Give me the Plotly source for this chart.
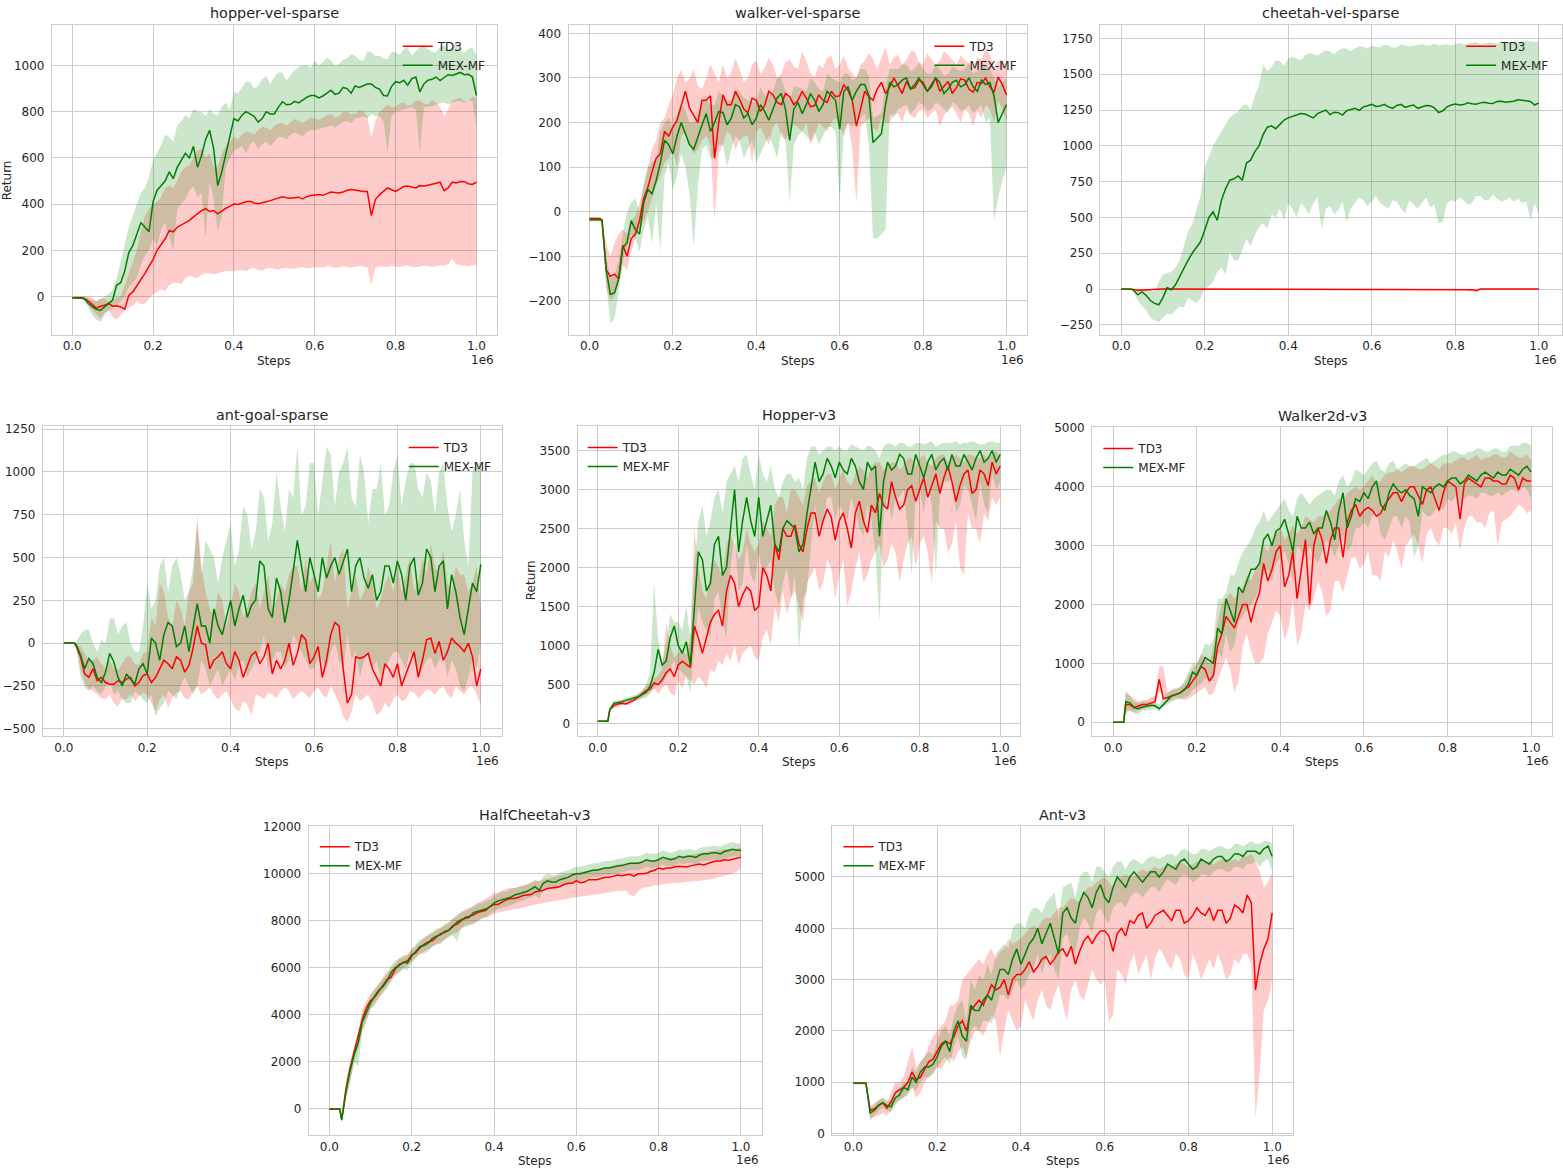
import plotly.graph_objects as go

# ---------------- data ----------------
# training steps, in units of 1e6
STEPS = [0, 0.025, 0.03, 0.04, 0.06, 0.08, 0.10, 0.12, 0.14, 0.16, 0.18,
         0.20, 0.22, 0.24, 0.26, 0.28, 0.30, 0.32, 0.34, 0.36, 0.38,
         0.40, 0.42, 0.44, 0.46, 0.48, 0.50, 0.52, 0.54, 0.56, 0.58,
         0.60, 0.62, 0.64, 0.66, 0.68, 0.70, 0.72, 0.74, 0.76, 0.78,
         0.80, 0.82, 0.84, 0.86, 0.88, 0.90, 0.92, 0.94, 0.96, 0.98,
         1.00]
# the evaluation steps in between (values for them are in the *_MID lists)
STEPS_MID = [0.05, 0.07, 0.09, 0.11, 0.13, 0.15, 0.17, 0.19,
             0.21, 0.23, 0.25, 0.27, 0.29, 0.31, 0.33, 0.35, 0.37, 0.39,
             0.41, 0.43, 0.45, 0.47, 0.49, 0.51, 0.53, 0.55, 0.57, 0.59,
             0.61, 0.63, 0.65, 0.67, 0.69, 0.71, 0.73, 0.75, 0.77, 0.79,
             0.81, 0.83, 0.85, 0.87, 0.89, 0.91, 0.93, 0.95, 0.97, 0.99]
X_TICKS = [0, 0.2, 0.4, 0.6, 0.8, 1.0]
X_TICK_LABELS = ["0.0", "0.2", "0.4", "0.6", "0.8", "1.0"]
SERIES_NAMES = ["TD3", "MEX-MF"]
TITLES = ["hopper-vel-sparse", "walker-vel-sparse", "cheetah-vel-sparse",
          "ant-goal-sparse", "Hopper-v3", "Walker2d-v3", "HalfCheetah-v3", "Ant-v3"]

# ===== hopper-vel-sparse =====
HVS_YTICKS = [0, 200, 400, 600, 800, 1000]
HVS_TD3_MEAN = [-5, -5, -8, -20, -50, -38, -42, -45, 5, 45, 100,
                160, 225, 285, 300, 320, 345, 372, 368, 358, 382,
                400, 405, 412, 402, 410, 420, 432, 425, 430, 432,
                440, 438, 452, 448, 460, 462, 455, 350, 440, 470,
                455, 476, 474, 480, 482, 490, 458, 495, 498, 488,
                495]
HVS_TD3_MEAN_MID = [-35, -42, -30, -40, -55, 20, 70, 130,
                    200, 250, 280, 310, 330, 360, 380, 372, 370, 390,
                    398, 410, 405, 405, 415, 428, 428, 428, 422, 437,
                    442, 446, 450, 452, 463, 458, 455, 420, 455, 462,
                    465, 478, 470, 478, 485, 495, 470, 492, 497, 485]
HVS_TD3_LOW = [-10, -10, -15, -40, -80, -70, -90, -80, -50, -20, -30,
               10, 30, 50, 60, 80, 85, 95, 100, 100, 110,
               110, 115, 120, 115, 120, 118, 122, 120, 125, 122,
               128, 125, 130, 126, 128, 130, 128, 50, 130, 128,
               130, 132, 128, 130, 132, 130, 133, 165, 135, 130,
               135]
HVS_TD3_LOW_MID = [-60, -95, -60, -100, -60, -40, -35, -10,
                   20, 25, 60, 55, 90, 80, 100, 95, 105, 108,
                   112, 110, 122, 113, 125, 116, 124, 119, 128, 124,
                   127, 131, 124, 130, 125, 132, 126, 125, 128, 133,
                   128, 134, 127, 133, 129, 135, 140, 140, 132, 136]
HVS_TD3_HIGH = [0, 0, 0, 0, -20, -10, -20, 0, 100, 200, 350,
                400, 430, 480, 500, 560, 600, 640, 620, 560, 650,
                690, 700, 710, 720, 730, 740, 750, 755, 760, 762,
                770, 775, 790, 780, 800, 790, 800, 690, 800, 830,
                820, 840, 830, 850, 830, 840, 780, 850, 860, 850,
                860]
HVS_TD3_HIGH_MID = [-5, -10, -20, -5, 50, 150, 280, 380,
                    410, 470, 470, 540, 570, 630, 600, 560, 620, 670,
                    680, 715, 700, 735, 720, 750, 740, 768, 752, 775,
                    765, 785, 775, 800, 790, 805, 780, 760, 815, 820,
                    835, 825, 845, 835, 850, 820, 810, 855, 845, 865]
HVS_MEX_MEAN = [-5, -5, -10, -30, -55, -45, -15, 60, 190, 270, 300,
                410, 480, 540, 560, 620, 650, 610, 720, 480, 620,
                770, 785, 790, 755, 800, 790, 843, 832, 838, 862,
                870, 868, 893, 880, 900, 912, 914, 920, 898, 868,
                930, 936, 943, 886, 936, 950, 948, 957, 970, 962,
                870]
HVS_MEX_MEAN_MID = [-45, -60, -30, 50, 110, 220, 320, 280,
                    460, 500, 510, 590, 600, 560, 680, 640, 540, 700,
                    760, 800, 780, 770, 790, 820, 830, 845, 850, 870,
                    860, 880, 875, 905, 880, 905, 920, 905, 870, 910,
                    925, 915, 950, 920, 940, 935, 960, 965, 960, 950]
HVS_MEX_LOW = [-10, -10, -15, -50, -100, -80, -50, -20, 40, 80, 180,
               250, 290, 260, 380, 420, 480, 450, 500, 280, 560,
               630, 650, 660, 640, 670, 672, 690, 700, 702, 712,
               720, 730, 740, 745, 760, 770, 780, 790, 780, 620,
               800, 810, 820, 620, 820, 830, 840, 840, 845, 850,
               740]
HVS_MEX_LOW_MID = [-80, -110, -60, -40, 0, 60, 140, 200,
                   220, 320, 200, 400, 460, 430, 250, 420, 350, 600,
                   640, 620, 670, 660, 650, 690, 680, 710, 690, 720,
                   725, 735, 730, 755, 750, 775, 770, 780, 760, 780,
                   805, 815, 810, 820, 825, 835, 830, 845, 840, 845]
HVS_MEX_HIGH = [0, 0, 0, -10, -20, 0, 30, 150, 300, 400, 470,
                590, 655, 690, 740, 785, 815, 800, 812, 785, 840,
                885, 905, 928, 912, 955, 950, 970, 957, 992, 1000,
                1020, 1014, 1022, 1006, 1030, 1042, 1020, 1058, 1043, 1028,
                1057, 1070, 1043, 1080, 1070, 1057, 1086, 1078, 1064, 1072,
                1040]
HVS_MEX_HIGH_MID = [-15, -10, 10, 80, 230, 350, 450, 520,
                    620, 700, 670, 760, 770, 800, 780, 790, 820, 810,
                    880, 930, 900, 940, 920, 970, 935, 980, 1000, 990,
                    1000, 1035, 1000, 1025, 1050, 1025, 1060, 1040, 1030, 1060,
                    1045, 1080, 1060, 1090, 1060, 1080, 1070, 1100, 1055, 1080]

# ===== walker-vel-sparse =====
WVS_YTICKS = [-200, -100, 0, 100, 200, 300, 400]
WVS_TD3_MEAN = [-15, -15, -20, -130, -140, -75, -60, -20, 55, 120, 180,
                190, 240, 232, 200, 250, 120, 262, 240, 252, 222,
                250, 238, 262, 240, 258, 250, 255, 238, 250, 270,
                260, 272, 192, 270, 250, 290, 280, 283, 292, 278,
                290, 285, 270, 292, 278, 295, 268, 287, 280, 302,
                262]
WVS_TD3_MEAN_MID = [-145, -150, -100, -50, 30, 90, 130, 170,
                    205, 270, 215, 250, 260, 200, 240, 270, 230, 255,
                    225, 270, 245, 265, 240, 270, 235, 262, 245, 258,
                    285, 250, 230, 258, 275, 265, 300, 265, 275, 295,
                    270, 300, 282, 265, 298, 275, 290, 300, 268, 285]
WVS_TD3_LOW = [-20, -20, -25, -170, -190, -120, -90, -40, 0, 60, 110,
               140, 170, 150, 140, 170, -20, 150, 170, 160, 170,
               180, 170, 190, 170, 180, 190, 200, 170, 190, 200,
               190, 200, 20, 200, 190, 210, 200, 220, 230, 210,
               230, 220, 190, 230, 220, 230, 190, 210, 230, 250,
               200]
WVS_TD3_LOW_MID = [-200, -160, -130, -60, -20, 30, 80, 120,
                   100, 180, 130, 160, 150, 130, 180, 140, 170, 110,
                   190, 150, 200, 160, 195, 180, 150, 200, 180, 210,
                   170, 140, 190, 210, 180, 200, 220, 200, 215, 225,
                   210, 230, 215, 235, 200, 220, 225, 240, 200, 230]
WVS_TD3_HIGH = [-12, -12, -15, -70, -70, -40, -20, 20, 100, 160, 210,
                262, 318, 298, 282, 300, 310, 330, 312, 320, 300,
                338, 322, 330, 310, 342, 320, 338, 302, 322, 350,
                330, 322, 300, 338, 342, 345, 330, 352, 340, 360,
                330, 342, 338, 352, 330, 340, 322, 342, 352, 338,
                320]
WVS_TD3_HIGH_MID = [-100, -50, -50, -10, 60, 140, 200, 240,
                    300, 290, 320, 275, 330, 290, 300, 345, 290, 330,
                    310, 345, 300, 335, 325, 360, 310, 330, 345, 320,
                    350, 310, 330, 355, 320, 370, 345, 330, 360, 335,
                    355, 330, 360, 340, 350, 330, 345, 365, 325, 340]
WVS_MEX_MEAN = [-18, -18, -18, -130, -182, -80, -20, -50, 50, 70, 160,
                130, 200, 150, 170, 220, 200, 222, 210, 235, 220,
                210, 225, 230, 265, 160, 245, 240, 250, 240, 260,
                185, 280, 270, 285, 155, 175, 290, 285, 300, 285,
                285, 280, 290, 275, 295, 285, 280, 295, 290, 200,
                240]
WVS_MEX_MEAN_MID = [-185, -150, -70, -40, 20, 40, 110, 150,
                    170, 175, 140, 195, 180, 225, 195, 240, 210, 195,
                    240, 205, 255, 230, 230, 220, 265, 225, 270, 250,
                    270, 250, 285, 260, 165, 240, 280, 295, 275, 300,
                    270, 300, 265, 290, 280, 300, 270, 285, 260, 220]
WVS_MEX_LOW = [-22, -22, -22, -160, -240, -110, -50, -90, -10, 20, 80,
               50, 130, 40, 60, 150, 120, 150, 140, 160, 140,
               110, 150, 150, 180, 20, 170, 170, 180, 170, 190,
               20, 200, 200, 220, -60, -50, 220, 230, 240, 230,
               240, 230, 240, 220, 240, 230, 220, 240, 210, 30,
               100]
WVS_MEX_LOW_MID = [-250, -180, -80, -60, -40, -70, -90, 110,
                   80, 100, -80, 140, 120, 150, 100, 170, 120, 160,
                   130, 170, 120, 160, 150, 180, 160, 150, 190, 180,
                   180, 190, 210, 150, -60, -40, 210, 235, 220, 245,
                   225, 245, 230, 245, 225, 240, 230, 200, -20, 70]
WVS_MEX_HIGH = [-14, -14, -14, -100, -145, -50, 20, 0, 100, 120, 200,
                190, 240, 200, 220, 250, 240, 260, 250, 270, 250,
                250, 260, 270, 300, 250, 280, 270, 290, 270, 300,
                290, 310, 300, 320, 210, 220, 320, 320, 330, 320,
                320, 310, 320, 310, 320, 320, 310, 320, 320, 280,
                300]
WVS_MEX_HIGH_MID = [-150, -110, 0, 30, 60, 110, 180, 210,
                    220, 230, 200, 250, 240, 270, 250, 275, 255, 245,
                    280, 260, 300, 270, 280, 275, 300, 275, 310, 295,
                    310, 295, 320, 305, 215, 280, 320, 330, 315, 335,
                    310, 330, 305, 325, 315, 335, 315, 330, 300, 290]

# ===== cheetah-vel-sparse =====
CVS_YTICKS = [-250, 0, 250, 500, 750, 1000, 1250, 1500, 1750]
CVS_TD3_MEAN = [0, 0, -3, -8, -4, 0, 0, 0, 0, 0, 0,
                0, 0, 0, 0, 0, 0, 0, 0, 0, 0,
                0, 0, 0, 0, 0, 0, 0, 0, 0, 0,
                0, 0, 0, 0, 0, 0, 0, 0, 0, 0,
                0, 0, -4, 0, 0, 0, 0, 0, 0, 0,
                0]
CVS_TD3_MEAN_MID = [-6, -2, 0, 0, 0, 0, 0, 0,
                    0, 0, 0, 0, 0, 0, 0, 0, 0, 0,
                    0, 0, 0, 0, 0, 0, 0, 0, 0, 0,
                    0, 0, 0, 0, 0, 0, 0, 0, 0, 0,
                    0, 0, -12, 0, 0, 0, 0, 0, 0, 0]
CVS_TD3_LOW = [-2, -2, -8, -18, -12, -5, -3, -3, -3, -3, -3,
               -3, -3, -3, -3, -3, -3, -3, -3, -3, -3,
               -3, -3, -3, -3, -3, -3, -3, -3, -3, -3,
               -3, -3, -3, -3, -3, -3, -3, -3, -3, -3,
               -3, -3, -20, -3, -3, -3, -3, -3, -3, -3,
               -3]
CVS_TD3_HIGH = [2, 2, 0, 0, 2, 3, 3, 3, 3, 3, 3,
                3, 3, 3, 3, 3, 3, 3, 3, 3, 3,
                3, 3, 3, 3, 3, 3, 3, 3, 3, 3,
                3, 3, 3, 3, 3, 3, 3, 3, 3, 3,
                3, 3, 0, 3, 3, 3, 3, 3, 3, 3,
                3]
CVS_MEX_MEAN = [0, 0, -10, -40, -45, -100, -60, -5, 90, 200, 290,
                410, 540, 620, 760, 790, 880, 960, 1080, 1140, 1150,
                1195, 1210, 1222, 1195, 1240, 1218, 1232, 1245, 1262, 1272,
                1290, 1278, 1272, 1282, 1268, 1285, 1272, 1280, 1232, 1272,
                1292, 1288, 1294, 1300, 1298, 1310, 1305, 1312, 1318, 1310,
                1300]
CVS_MEX_MEAN_MID = [-20, -80, -110, 10, 30, 150, 250, 330,
                    500, 480, 700, 770, 760, 900, 1000, 1130, 1120, 1180,
                    1205, 1225, 1210, 1225, 1250, 1235, 1215, 1255, 1248, 1280,
                    1275, 1290, 1262, 1290, 1278, 1262, 1282, 1265, 1245, 1285,
                    1285, 1300, 1290, 1305, 1295, 1312, 1308, 1322, 1315, 1285]
CVS_MEX_LOW = [0, 0, -20, -80, -150, -220, -200, -180, -120, -60, -100,
               0, 50, 150, 260, 200, 350, 380, 460, 520, 560,
               600, 500, 570, 600, 420, 580, 550, 470, 600, 620,
               610, 600, 560, 610, 530, 590, 600, 570, 460, 600,
               610, 620, 600, 650, 620, 630, 620, 610, 600, 480,
               520]
CVS_MEX_LOW_MID = [-120, -200, -230, -170, -150, -130, -80, -60,
                   20, 120, 100, 200, 280, 300, 430, 420, 500, 480,
                   560, 600, 520, 640, 560, 520, 610, 560, 640, 580,
                   650, 580, 620, 560, 620, 560, 640, 590, 470, 620,
                   640, 590, 650, 620, 660, 610, 640, 630, 610, 600]
CVS_MEX_HIGH = [0, 0, 0, -10, 0, -20, 100, 120, 200, 400, 550,
                850, 1000, 1100, 1200, 1240, 1290, 1350, 1570, 1550, 1590,
                1610, 1612, 1630, 1642, 1650, 1660, 1668, 1680, 1682, 1690,
                1700, 1690, 1702, 1690, 1700, 1698, 1710, 1702, 1700, 1710,
                1712, 1708, 1720, 1710, 1722, 1712, 1720, 1730, 1722, 1730,
                1730]
CVS_MEX_HIGH_MID = [-5, -10, 50, 110, 150, 300, 450, 650,
                    920, 1050, 1150, 1220, 1280, 1250, 1420, 1520, 1600, 1560,
                    1620, 1600, 1650, 1630, 1665, 1640, 1680, 1660, 1695, 1680,
                    1690, 1705, 1685, 1710, 1695, 1705, 1700, 1715, 1705, 1700,
                    1720, 1715, 1725, 1715, 1720, 1730, 1718, 1728, 1735, 1725]

# ===== ant-goal-sparse =====
AGS_YTICKS = [-500, -250, 0, 250, 500, 750, 1000, 1250]
AGS_TD3_MEAN = [0, 0, -20, -80, -200, -220, -230, -240, -230, -200, -230,
                -180, -200, -100, -150, -100, -130, 100, -10, -100, -50,
                -150, -100, -130, -50, -80, -180, -150, 0, -60, 20,
                -80, -200, 50, 100, -350, -80, -80, -150, -250, -150,
                -120, -180, -50, -100, 30, 10, -50, 0, -50, -80,
                -150]
AGS_TD3_MEAN_MID = [-180, -150, -200, -240, -220, -210, -250, -190,
                    -230, -150, -120, -80, -170, -30, 0, -150, -80, -120,
                    -50, -200, -70, -120, 0, -100, -100, -130, 50, -120,
                    -20, -100, 120, -150, -300, -90, -60, -200, -120, -200,
                    -250, -120, -200, 20, -60, -100, 30, -20, 0, -250]
AGS_TD3_LOW = [0, 0, -30, -150, -270, -300, -330, -350, -320, -300, -310,
               -300, -400, -300, -320, -280, -330, -250, -280, -300, -300,
               -330, -400, -360, -300, -330, -300, -280, -280, -300, -300,
               -280, -300, -250, -350, -460, -300, -320, -350, -400, -380,
               -300, -330, -290, -300, -280, -270, -300, -250, -300, -250,
               -360]
AGS_TD3_LOW_MID = [-230, -280, -320, -300, -370, -330, -340, -290,
                   -350, -330, -380, -290, -320, -280, -300, -260, -330, -280,
                   -380, -340, -420, -310, -290, -320, -260, -330, -280, -320,
                   -260, -320, -300, -430, -400, -340, -300, -420, -350, -330,
                   -340, -280, -320, -270, -300, -250, -320, -280, -260, -300]
AGS_TD3_HIGH = [0, 0, -10, -20, -100, -80, -150, -150, -120, -80, -130,
                -50, 100, 300, 100, 200, 300, 750, 300, 150, 250,
                200, 300, 200, 350, 300, 200, 350, 400, 450, 500,
                400, 300, 600, 500, 200, 400, 300, 350, 250, 400,
                450, 400, 300, 500, 580, 400, 350, 450, 400, 350,
                200]
AGS_TD3_HIGH_MID = [-60, -100, -120, -100, -160, -80, -120, -60,
                    150, 350, 150, 250, 100, 350, 450, 200, 300, 100,
                    350, 150, 300, 200, 400, 250, 300, 450, 300, 350,
                    250, 450, 350, 550, 300, 250, 450, 200, 350, 300,
                    300, 500, 350, 400, 450, 550, 300, 400, 300, 450]
AGS_MEX_MEAN = [0, 0, -10, -70, -90, -200, -170, -110, -250, -210, -150,
                -180, 0, 50, 100, 0, -50, 230, 100, 200, 50,
                250, 200, 150, 250, 450, 150, 300, 250, 600, 300,
                400, 500, 450, 400, 550, 450, 380, 400, 300, 450,
                480, 250, 500, 350, 500, 450, 200, 300, 50, 350,
                460]
AGS_MEX_MEAN_MID = [-150, -120, -230, -60, -200, -180, -240, -120,
                    30, -100, 120, -20, 100, 80, 100, 0, 100, 150,
                    100, 280, 220, 480, 200, 380, 120, 420, 450, 500,
                    300, 380, 500, 480, 300, 500, 320, 250, 450, 350,
                    400, 450, 280, 550, 300, 480, 400, 150, 200, 300]
AGS_MEX_LOW = [0, 0, -30, -200, -280, -280, -250, -300, -330, -350, -300,
               -350, -430, -350, -300, -250, -250, -250, -150, -200, -250,
               -150, -120, -200, -100, 50, -100, -50, -100, 0, -100,
               -150, -100, -50, -100, 50, -50, -100, -150, -200, -100,
               -50, -150, -100, -150, -80, -100, -200, -150, -280, -100,
               0]
AGS_MEX_LOW_MID = [-260, -250, -300, -220, -280, -350, -280, -330,
                   -300, -380, -280, -330, -200, -300, -100, -250, -150, -200,
                   -220, -100, -150, -50, -150, -50, -150, 50, -50, -150,
                   -80, -150, 0, -150, -100, -200, -50, -100, -150, -50,
                   -100, -50, -200, -100, -150, -50, -100, -250, -200, -150]
AGS_MEX_HIGH = [0, 0, 10, 50, 80, -50, 0, 150, 100, 0, -50,
                350, 250, 500, 450, 400, 300, 700, 600, 500, 500,
                700, 550, 750, 650, 850, 700, 800, 900, 1150, 800,
                1050, 950, 1100, 1000, 1150, 800, 1000, 900, 1050, 800,
                1100, 950, 1050, 850, 950, 1000, 800, 750, 600, 1000,
                1050]
AGS_MEX_HIGH_MID = [80, 0, 20, 140, 50, 120, -50, 100,
                    200, 450, 300, 500, 250, 450, 400, 550, 350, 600,
                    450, 800, 550, 900, 600, 1000, 650, 850, 750, 1050,
                    750, 1150, 800, 1050, 850, 1100, 700, 900, 750, 1000,
                    800, 1050, 900, 1000, 750, 1050, 650, 900, 450, 1050]

# ===== Hopper-v3 =====
HOP_YTICKS = [0, 500, 1000, 1500, 2000, 2500, 3000, 3500]
HOP_TD3_MEAN = [30, 30, 180, 230, 260, 270, 340, 420, 520, 560, 700,
                750, 760, 1250, 900, 1300, 1450, 1700, 1800, 1650, 1700,
                1500, 1900, 2300, 2500, 2400, 2300, 2500, 2700, 2600, 2650,
                2600, 2500, 2700, 2600, 2800, 2950, 2750, 2900, 2800, 3050,
                3000, 2900, 3200, 3150, 3100, 3050, 3250, 3000, 3200, 3350,
                3300]
HOP_TD3_MEAN_MID = [250, 250, 300, 380, 440, 500, 650, 600,
                    800, 720, 1100, 1100, 1400, 1250, 1900, 1500, 1750, 1450,
                    2000, 1700, 2100, 2400, 2550, 2200, 2700, 2400, 2750, 2350,
                    2700, 2250, 2850, 2450, 2700, 2800, 3100, 2750, 3000, 2850,
                    3150, 3050, 2950, 3300, 2850, 3200, 2950, 3250, 3050, 3200]
HOP_TD3_LOW = [25, 25, 170, 200, 230, 240, 300, 360, 450, 450, 400,
               550, 600, 500, 550, 700, 800, 900, 1000, 900, 1000,
               800, 1200, 1500, 1700, 1600, 1500, 1800, 2000, 1800, 2000,
               1900, 1500, 2000, 1800, 2100, 2300, 2100, 2200, 2100, 2400,
               2300, 2200, 2600, 2500, 2300, 2000, 2700, 2500, 2700, 2900,
               2900]
HOP_TD3_LOW_MID = [210, 240, 280, 330, 400, 380, 500, 350,
                   450, 550, 600, 450, 650, 750, 800, 750, 950, 850,
                   1100, 1000, 1300, 1400, 1700, 1300, 1900, 1700, 2100, 1600,
                   2100, 1700, 2200, 1900, 2200, 2000, 2300, 1800, 2300, 2000,
                   2400, 1800, 2500, 2200, 2600, 1900, 2500, 2300, 2600, 2800]
HOP_TD3_HIGH = [35, 35, 190, 250, 290, 310, 380, 480, 580, 700, 1000,
                900, 880, 2500, 1700, 1900, 2000, 2300, 2300, 2200, 2300,
                2300, 2500, 2800, 2900, 3000, 2900, 3050, 3150, 3100, 3200,
                3150, 3100, 3200, 3250, 3300, 3350, 3300, 3350, 3300, 3400,
                3400, 3350, 3400, 3450, 3400, 3400, 3450, 3400, 3450, 3450,
                3400]
HOP_TD3_HIGH_MID = [270, 290, 340, 420, 520, 620, 1300, 850,
                    950, 1100, 2000, 1600, 2100, 1900, 2400, 2100, 2500, 2200,
                    2600, 2400, 2900, 2700, 3000, 2800, 3100, 2950, 3200, 3000,
                    3250, 3050, 3300, 3150, 3350, 3250, 3350, 3250, 3400, 3300,
                    3450, 3300, 3450, 3350, 3450, 3350, 3450, 3400, 3400, 3500]
HOP_MEX_MEAN = [30, 30, 180, 260, 280, 310, 340, 400, 650, 750, 1100,
                1000, 1050, 1550, 2100, 1800, 2400, 2000, 3000, 2600, 2600,
                2900, 2600, 2300, 2500, 2550, 2200, 2700, 3350, 3200, 3300,
                3350, 3200, 3300, 3000, 3250, 2400, 3350, 3300, 3400, 3200,
                3300, 3350, 3250, 3400, 3450, 3300, 3350, 3400, 3350, 3500,
                3450]
HOP_MEX_MEAN_MID = [270, 300, 330, 370, 480, 950, 800, 1250,
                    900, 750, 2200, 1700, 2300, 1900, 2500, 2200, 2900, 2400,
                    2400, 2800, 2200, 2600, 2500, 2300, 3000, 3100, 3400, 3150,
                    3250, 3400, 3100, 3350, 3300, 3100, 3250, 3450, 3200, 3450,
                    3150, 3450, 3350, 3250, 3300, 3450, 3250, 3500, 3400, 3350]
HOP_MEX_LOW = [25, 25, 160, 230, 250, 280, 300, 330, 450, 500, 700,
               700, 600, 1000, 1300, 1100, 1700, 1100, 2400, 1800, 1900,
               2200, 2000, 1700, 1800, 1600, 950, 1700, 2800, 2600, 2900,
               2800, 2600, 2700, 2400, 2600, 1300, 2900, 2900, 3000, 1900,
               3000, 3050, 1900, 3100, 3150, 2800, 3000, 2600, 2800, 3200,
               3100]
HOP_MEX_LOW_MID = [240, 270, 290, 320, 380, 550, 600, 800,
                   650, 400, 1500, 1200, 1600, 1300, 2000, 1700, 2300, 1800,
                   1900, 2100, 1500, 2000, 1900, 1600, 2300, 2500, 2900, 2600,
                   2700, 2900, 2500, 2800, 2200, 2700, 2600, 2900, 2500, 2900,
                   2700, 2800, 2900, 3100, 2700, 3050, 2800, 3100, 2700, 3000]
HOP_MEX_HIGH = [35, 35, 200, 290, 310, 350, 380, 500, 1800, 800, 1400,
                1300, 1500, 2000, 2800, 2600, 3000, 3100, 3300, 3400, 3200,
                3450, 3100, 3000, 3100, 3200, 3150, 3400, 3550, 3500, 3550,
                3550, 3500, 3550, 3500, 3550, 3400, 3600, 3550, 3600, 3550,
                3600, 3600, 3550, 3600, 3600, 3580, 3600, 3600, 3580, 3620,
                3600]
HOP_MEX_HIGH_MID = [300, 330, 360, 420, 650, 1100, 1000, 1300,
                    1200, 1100, 2600, 2400, 2900, 2700, 3200, 3100, 3450, 3000,
                    3200, 3300, 2900, 3200, 3100, 3000, 3550, 3450, 3550, 3500,
                    3500, 3580, 3520, 3560, 3500, 3550, 3580, 3600, 3550, 3600,
                    3580, 3620, 3580, 3600, 3620, 3600, 3620, 3580, 3610, 3600]

# ===== Walker2d-v3 =====
W2D_YTICKS = [0, 1000, 2000, 3000, 4000, 5000]
W2D_TD3_MEAN = [0, 0, 300, 300, 280, 300, 350, 400, 450, 500, 600,
                800, 900, 800, 1500, 1700, 1800, 2000, 2000, 2700, 2600,
                3000, 2500, 2100, 3100, 3000, 3100, 3100, 3300, 3400, 3700,
                3600, 3600, 3550, 3800, 3900, 3900, 4000, 3700, 4000, 3600,
                4100, 4000, 4050, 4100, 4000, 4150, 4100, 4050, 4150, 4150,
                4100]
W2D_TD3_MEAN_MID = [250, 300, 330, 730, 420, 480, 560, 700,
                    950, 700, 1300, 1800, 1600, 2000, 1700, 2200, 2400, 2900,
                    2300, 2900, 2600, 2000, 3300, 2700, 3300, 2800, 3600, 3500,
                    3650, 3500, 3700, 3900, 3750, 4000, 3850, 3950, 3800, 3900,
                    4050, 3450, 4150, 4050, 4150, 4100, 4050, 4200, 3950, 4100]
W2D_TD3_LOW = [0, 0, 150, 200, 200, 250, 280, 500, 380, 400, 400,
               500, 600, 500, 900, 900, 700, 1500, 1000, 1100, 1700,
               1800, 1600, 1300, 2000, 2100, 2200, 1900, 2400, 2500, 2800,
               2700, 2500, 2400, 2800, 2900, 3000, 3200, 2700, 3300, 3000,
               3300, 3400, 3300, 3500, 3400, 3550, 3000, 3450, 3600, 3650,
               3600]
W2D_TD3_LOW_MID = [180, 230, 260, 500, 350, 420, 380, 450,
                   550, 450, 700, 1100, 500, 1300, 1200, 1000, 1500, 1900,
                   1400, 2100, 1500, 1900, 2400, 1800, 2400, 2200, 2800, 2600,
                   2900, 2500, 2900, 3100, 2600, 3100, 3000, 3200, 3100, 3300,
                   3200, 2900, 3500, 3400, 3300, 3600, 3400, 3500, 3700, 3550]
W2D_TD3_HIGH = [0, 0, 500, 450, 350, 380, 450, 950, 550, 600, 800,
                1000, 1100, 1300, 2000, 2200, 2200, 2500, 2600, 3000, 3100,
                3300, 3200, 3200, 3500, 3400, 3500, 3600, 3800, 3900, 4000,
                4000, 4200, 4100, 4250, 4300, 4300, 4350, 4300, 4400, 4300,
                4400, 4450, 4500, 4500, 4450, 4500, 4550, 4500, 4550, 4500,
                4450]
W2D_TD3_HIGH_MID = [400, 380, 420, 950, 500, 580, 650, 900,
                    1150, 1000, 1700, 2100, 2100, 2300, 2400, 2700, 2900, 3200,
                    3100, 3350, 3300, 3450, 3500, 3550, 3700, 3750, 3950, 3950,
                    4100, 4050, 4200, 4250, 4250, 4350, 4300, 4350, 4350, 4400,
                    4400, 4500, 4450, 4550, 4500, 4550, 4500, 4600, 4500, 4550]
W2D_MEX_MEAN = [0, 0, 350, 330, 230, 280, 280, 300, 450, 500, 650,
                800, 1100, 1000, 1500, 1900, 2300, 2400, 2600, 3100, 3000,
                3300, 3200, 3500, 3300, 3200, 3300, 3400, 3600, 3300, 3800,
                3900, 4000, 3700, 3900, 3950, 3950, 3800, 4000, 3900, 4050,
                4100, 4150, 4100, 4150, 4200, 4200, 4250, 4200, 4250, 4300,
                4250]
W2D_MEX_MEAN_MID = [250, 260, 290, 230, 380, 470, 550, 850,
                    950, 1050, 1600, 2100, 1700, 2200, 2600, 2700, 3200, 3250,
                    3450, 2900, 3300, 3400, 3300, 3600, 3100, 3900, 3500, 3750,
                    3800, 4100, 3600, 4050, 3900, 3850, 3500, 3950, 4000, 4000,
                    4150, 4050, 4200, 4100, 4250, 4150, 4200, 4300, 4200, 4350]
W2D_MEX_LOW = [0, 0, 200, 200, 130, 200, 230, 270, 350, 400, 450,
               600, 750, 700, 1100, 1200, 1700, 1900, 2100, 2500, 2400,
               2800, 2700, 3000, 2800, 2800, 2900, 3000, 3000, 2900, 3300,
               3400, 3500, 3200, 3300, 3500, 3500, 2800, 3600, 3500, 3700,
               3800, 3850, 3800, 3850, 3900, 3850, 3900, 3900, 3950, 4000,
               3800]
W2D_MEX_LOW_MID = [150, 200, 220, 180, 300, 380, 420, 550,
                   650, 700, 1200, 1500, 1300, 1800, 2000, 2300, 2600, 2700,
                   2900, 2400, 2900, 3000, 2700, 3100, 2800, 3200, 3000, 3300,
                   3300, 3600, 3100, 3500, 3300, 3400, 3000, 3500, 3600, 3600,
                   3750, 3700, 3850, 3800, 3900, 3850, 3850, 3950, 3900, 3950]
W2D_MEX_HIGH = [0, 0, 550, 450, 330, 350, 330, 420, 550, 600, 850,
                1000, 1350, 1400, 2100, 2500, 2700, 3000, 3300, 3600, 3500,
                3700, 3600, 3800, 3800, 3800, 3900, 3950, 4100, 4000, 4300,
                4200, 4400, 4300, 4400, 4300, 4400, 4350, 4450, 4400, 4500,
                4550, 4600, 4550, 4600, 4650, 4600, 4650, 4600, 4700, 4750,
                4700]
W2D_MEX_HIGH_MID = [350, 350, 340, 300, 500, 560, 700, 1000,
                    1150, 1300, 2100, 2200, 2500, 2900, 3100, 3400, 3400, 3600,
                    3800, 3500, 3900, 3700, 3850, 3950, 3850, 4200, 4100, 4250,
                    4300, 4450, 4250, 4450, 4350, 4350, 4400, 4500, 4450, 4550,
                    4600, 4550, 4600, 4650, 4600, 4650, 4600, 4700, 4700, 4750]

# ===== HalfCheetah-v3 =====
HC_YTICKS = [0, 2000, 4000, 6000, 8000, 10000, 12000]
HC_TD3_MEAN = [0, 0, -450, 800, 2400, 3800, 4600, 5000, 5500, 5950, 6220,
               6550, 6850, 7100, 7300, 7500, 7800, 8000, 8200, 8350, 8450,
               8700, 8800, 8950, 9000, 9100, 9230, 9300, 9400, 9450, 9600,
               9700, 9650, 9750, 9800, 9850, 9950, 9950, 9900, 10000, 10100,
               10250, 10250, 10300, 10300, 10350, 10420, 10450, 10550, 10600, 10620,
               10700]
HC_TD3_MEAN_MID = [1700, 3000, 4300, 4750, 5300, 5600, 6150, 6300,
                   6650, 7000, 7150, 7450, 7600, 7850, 8150, 8250, 8400, 8600,
                   8700, 8900, 8950, 9080, 9120, 9250, 9380, 9400, 9550, 9600,
                   9620, 9750, 9750, 9850, 9900, 9920, 9980, 10000, 10020, 10150,
                   10200, 10250, 10320, 10300, 10400, 10380, 10500, 10550, 10580, 10650]
HC_TD3_LOW = [0, 0, -550, 400, 2000, 3300, 4300, 4700, 5200, 5700, 6000,
              6300, 6600, 6800, 7000, 7200, 7450, 7650, 7850, 7950, 8150,
              8300, 8380, 8450, 8520, 8600, 8700, 8760, 8820, 8880, 8950,
              9000, 9050, 9100, 9150, 9200, 9280, 9300, 9050, 9400, 9450,
              9550, 9580, 9600, 9650, 9680, 9700, 9750, 9800, 9900, 10000,
              10250]
HC_TD3_LOW_MID = [1200, 2600, 3700, 4400, 5000, 5400, 5850, 6100,
                  6450, 6700, 6900, 7100, 7350, 7500, 7800, 7850, 8100, 8200,
                  8350, 8400, 8500, 8550, 8650, 8720, 8800, 8850, 8900, 8980,
                  9030, 9060, 9130, 9170, 9250, 9260, 9100, 9250, 9430, 9500,
                  9560, 9600, 9620, 9660, 9690, 9730, 9780, 9850, 9950, 10100]
HC_TD3_HIGH = [0, 0, -350, 1200, 2700, 4200, 4900, 5300, 5800, 6200, 6450,
               6800, 7100, 7400, 7600, 7800, 8100, 8350, 8550, 8750, 8950,
               9200, 9300, 9400, 9450, 9550, 9700, 9750, 9850, 9950, 10000,
               10050, 10100, 10200, 10250, 10300, 10400, 10420, 10450, 10500, 10550,
               10600, 10650, 10700, 10750, 10800, 10900, 10950, 11000, 11050, 11050,
               11100]
HC_TD3_HIGH_MID = [2000, 3300, 4600, 5100, 5600, 5950, 6400, 6600,
                   6900, 7300, 7450, 7700, 7950, 8200, 8500, 8600, 8850, 9050,
                   9200, 9380, 9400, 9500, 9600, 9700, 9800, 9880, 9980, 10020,
                   10100, 10150, 10220, 10280, 10350, 10420, 10430, 10480, 10520, 10580,
                   10630, 10680, 10720, 10780, 10850, 10920, 10980, 11020, 11060, 11080]
HC_MEX_MEAN = [0, 0, -480, 700, 2300, 3700, 4500, 5050, 5450, 6000, 6250,
               6500, 6900, 7050, 7350, 7550, 7750, 8050, 8150, 8400, 8500,
               8750, 8900, 9000, 9150, 9250, 9450, 9600, 9650, 9750, 9850,
               10000, 10050, 10150, 10200, 10250, 10330, 10400, 10450, 10500, 10550,
               10600, 10650, 10650, 10700, 10750, 10800, 10850, 10900, 10950, 11050,
               11000]
HC_MEX_MEAN_MID = [1600, 2800, 4100, 4800, 5200, 5800, 6100, 6200,
                   6700, 6950, 7250, 7400, 7600, 7950, 8100, 8350, 8450, 8600,
                   8850, 8950, 9100, 9200, 9350, 9300, 9700, 9650, 9800, 9950,
                   10000, 10100, 10150, 10250, 10300, 10350, 10450, 10450, 10600, 10550,
                   10700, 10600, 10750, 10750, 10700, 10850, 10900, 10850, 11000, 11000]
HC_MEX_LOW = [0, 0, -550, 400, 2000, 3300, 4200, 4750, 5150, 5700, 5950,
              6200, 6600, 6700, 7000, 7200, 7400, 7700, 7800, 8000, 8150,
              8400, 8550, 8650, 8800, 8950, 9100, 9300, 9350, 9450, 9550,
              9700, 9750, 9850, 9900, 9950, 10030, 10100, 10150, 10200, 10250,
              10300, 10350, 10350, 10400, 10450, 10500, 10550, 10600, 10650, 10750,
              10700]
HC_MEX_LOW_MID = [1100, 1800, 3800, 4500, 4900, 5500, 5800, 5900,
                  6400, 6600, 6900, 7000, 7300, 7100, 7750, 7900, 8100, 8300,
                  8500, 8600, 8750, 8850, 9000, 8950, 9350, 9300, 9500, 9650,
                  9700, 9800, 9850, 9950, 10000, 10050, 10150, 10150, 10300, 10250,
                  10400, 10300, 10450, 10450, 10400, 10550, 10600, 10550, 10700, 10700]
HC_MEX_HIGH = [0, 0, -400, 1000, 2600, 4000, 4800, 5350, 5750, 6300, 6550,
               6800, 7200, 7400, 7650, 7850, 8100, 8400, 8500, 8750, 8850,
               9050, 9250, 9350, 9450, 9550, 9750, 9900, 9950, 10050, 10150,
               10300, 10350, 10450, 10500, 10550, 10630, 10700, 10750, 10800, 10850,
               10900, 10950, 10950, 11000, 11050, 11100, 11150, 11200, 11250, 11350,
               11300]
HC_MEX_HIGH_MID = [1900, 3100, 4400, 5100, 5500, 6100, 6400, 6500,
                   7000, 7250, 7550, 7700, 7900, 8250, 8400, 8650, 8750, 8900,
                   9150, 9250, 9400, 9500, 9650, 9650, 10000, 9950, 10100, 10250,
                   10300, 10400, 10450, 10550, 10600, 10650, 10750, 10750, 10900, 10850,
                   11000, 10900, 11050, 11050, 11000, 11150, 11200, 11150, 11300, 11300]

# ===== Ant-v3 =====
ANT_YTICKS = [0, 1000, 2000, 3000, 4000, 5000]
ANT_TD3_MEAN = [980, 980, 980, 450, 550, 500, 800, 900, 1200, 1100, 1400,
                1600, 1800, 1900, 2200, 2400, 2600, 2700, 2800, 3000, 3000,
                3100, 3350, 3250, 3450, 3400, 3600, 3650, 3550, 3850, 3850,
                3950, 3550, 4000, 4150, 4250, 4000, 4250, 4350, 4150, 4350,
                4150, 4400, 4250, 4150, 4350, 4200, 4400, 4650, 2800, 3600,
                4300]
ANT_TD3_MEAN_MID = [480, 600, 620, 850, 1000, 1050, 1250, 1450,
                    1750, 1750, 2100, 2000, 2500, 2500, 2900, 2850, 2700, 3100,
                    3200, 3150, 3400, 3300, 3550, 3450, 3300, 3750, 3700, 3950,
                    3850, 3900, 3850, 4100, 4300, 4100, 4300, 4250, 4350, 4100,
                    4250, 4300, 4400, 4350, 4100, 4450, 4300, 4500, 3300, 3800]
ANT_TD3_LOW = [960, 960, 960, 300, 350, 350, 600, 700, 900, 800, 1100,
               1300, 1400, 1400, 1700, 1800, 2000, 2100, 2200, 2000, 2200,
               2100, 2400, 2600, 2500, 2700, 2500, 2800, 2700, 2900, 3000,
               3000, 2300, 3100, 3300, 3100, 3500, 3400, 3500, 3200, 3400,
               3000, 3300, 3200, 3200, 3300, 3100, 3300, 3500, 300, 2400,
               3000]
ANT_TD3_LOW_MID = [330, 400, 450, 650, 800, 700, 1000, 1200,
                   1250, 1500, 1600, 1500, 2000, 1900, 2300, 1500, 2400, 2000,
                   2600, 2200, 2800, 2400, 2900, 2200, 3000, 2600, 3200, 2900,
                   2200, 3200, 2900, 3500, 3300, 3000, 3600, 3300, 3500, 3100,
                   3500, 3000, 3400, 3500, 3000, 3400, 3500, 3300, 1200, 2600]
ANT_TD3_HIGH = [1000, 1000, 1000, 550, 650, 600, 1000, 1100, 1700, 1400, 1700,
                2000, 2200, 2500, 3000, 3200, 3400, 3500, 3400, 3600, 3700,
                3800, 4000, 4000, 4200, 4300, 4400, 4600, 4500, 4800, 4900,
                5000, 4800, 5000, 5000, 5100, 5100, 5200, 5200, 5200, 5300,
                5200, 5300, 5300, 5250, 5350, 5300, 5300, 5400, 5300, 4800,
                5100]
ANT_TD3_HIGH_MID = [600, 700, 800, 1000, 1400, 1300, 1500, 1900,
                    2100, 2500, 2600, 3100, 3300, 3300, 3600, 3550, 3800, 3750,
                    3900, 4050, 4150, 4200, 4400, 4500, 4550, 4700, 4800, 4950,
                    4900, 4950, 5050, 5000, 5150, 5150, 5150, 5250, 5250, 5250,
                    5250, 5350, 5300, 5300, 5350, 5350, 5400, 5450, 5100, 4900]
ANT_MEX_MEAN = [980, 980, 980, 400, 550, 550, 700, 900, 1100, 1200, 1300,
                1500, 1800, 2000, 1900, 2500, 2400, 2700, 2900, 3200, 3400,
                3300, 3700, 4000, 3900, 3800, 4300, 4200, 4500, 4600, 4700,
                4600, 4800, 4900, 5000, 5000, 5000, 5100, 5100, 5200, 5300,
                5250, 5200, 5300, 5350, 5400, 5350, 5450, 5500, 5500, 5550,
                5400]
ANT_MEX_MEAN_MID = [450, 600, 520, 750, 850, 1000, 1300, 1350,
                    1700, 1600, 2200, 1800, 2400, 2600, 2600, 3200, 3100, 3600,
                    3500, 3800, 3700, 4100, 3500, 4400, 4100, 4700, 4400, 4850,
                    4500, 5000, 4800, 5100, 4900, 5100, 5000, 5250, 5150, 5350,
                    5150, 5350, 5250, 5400, 5300, 5450, 5400, 5500, 5450, 5600]
ANT_MEX_LOW = [960, 960, 960, 250, 450, 450, 550, 700, 900, 1000, 1100,
               1300, 1500, 1700, 1500, 2000, 2000, 2200, 2400, 2700, 2800,
               2800, 3100, 3500, 3400, 3200, 3800, 3600, 4000, 4100, 4300,
               4200, 4400, 4500, 4600, 4700, 4700, 4800, 4850, 4900, 5000,
               5000, 4950, 5050, 5100, 5150, 5100, 5200, 5250, 5300, 5300,
               5100]
ANT_MEX_LOW_MID = [350, 500, 420, 650, 750, 850, 1100, 1150,
                   1400, 1350, 1900, 1450, 2100, 2200, 2150, 2700, 2600, 3000,
                   2900, 3200, 3100, 3500, 3000, 3900, 3500, 4200, 3900, 4400,
                   4100, 4500, 4400, 4700, 4600, 4800, 4700, 4950, 4850, 5050,
                   4900, 5050, 5000, 5150, 5100, 5200, 5150, 5250, 5200, 5350]
ANT_MEX_HIGH = [1000, 1000, 1000, 500, 650, 650, 800, 1000, 1300, 1400, 1600,
                1800, 2100, 2300, 2600, 3000, 3100, 3300, 3500, 3700, 4000,
                4100, 4300, 4400, 4500, 4700, 4800, 4900, 5000, 5100, 5200,
                5100, 5200, 5300, 5300, 5300, 5350, 5400, 5400, 5450, 5500,
                5500, 5450, 5550, 5550, 5600, 5550, 5650, 5650, 5650, 5700,
                5650]
ANT_MEX_HIGH_MID = [550, 700, 620, 900, 1000, 1200, 1500, 1550,
                    2000, 1900, 2500, 2200, 2800, 3000, 3100, 3600, 3600, 4100,
                    4000, 4400, 4300, 4600, 4200, 4850, 4600, 5100, 4900, 5200,
                    5000, 5300, 5150, 5350, 5250, 5400, 5350, 5450, 5400, 5550,
                    5450, 5550, 5500, 5600, 5550, 5650, 5600, 5700, 5650, 5700]

# ---------------- layout / style (pixel geometry of the 1563x1173 page) ----------------
W, H = 1563, 1173
FONT = "DejaVu Sans"
TEXT = "#262626"
GRID = "#cccccc"
LINE_COLORS = ["#ff0000", "#008000"]
FILL_COLORS = ["rgba(255,0,0,0.2)", "rgba(0,128,0,0.2)"]


def series(mean, mean_mid, low, low_mid, high, high_mid):
    return dict(mean=mean, mean_mid=mean_mid, low=low, low_mid=low_mid,
                high=high, high_mid=high_mid)


PANELS = [
    dict(td3=series(HVS_TD3_MEAN, HVS_TD3_MEAN_MID, HVS_TD3_LOW, HVS_TD3_LOW_MID, HVS_TD3_HIGH, HVS_TD3_HIGH_MID),
         mex=series(HVS_MEX_MEAN, HVS_MEX_MEAN_MID, HVS_MEX_LOW, HVS_MEX_LOW_MID, HVS_MEX_HIGH, HVS_MEX_HIGH_MID),
         yticks=HVS_YTICKS, box=(52, 497, 19, 332), xr=(-0.05, 1.05), yr=(-166, 1176),
         leg=(398, 26), ylabel=(7, 176), offr=496),
    dict(td3=series(WVS_TD3_MEAN, WVS_TD3_MEAN_MID, WVS_TD3_LOW, WVS_TD3_LOW_MID, WVS_TD3_HIGH, WVS_TD3_HIGH_MID),
         mex=series(WVS_MEX_MEAN, WVS_MEX_MEAN_MID, WVS_MEX_LOW, WVS_MEX_LOW_MID, WVS_MEX_HIGH, WVS_MEX_HIGH_MID),
         yticks=WVS_YTICKS, box=(569, 1028, 19, 332), xr=(-0.05, 1.05), yr=(-276, 419),
         leg=(930, 26), ylabel=None, offr=1027),
    dict(td3=series(CVS_TD3_MEAN, CVS_TD3_MEAN_MID, CVS_TD3_LOW, None, CVS_TD3_HIGH, None),
         mex=series(CVS_MEX_MEAN, CVS_MEX_MEAN_MID, CVS_MEX_LOW, CVS_MEX_LOW_MID, CVS_MEX_HIGH, CVS_MEX_HIGH_MID),
         yticks=CVS_YTICKS, box=(1101, 1563, 19, 332), xr=(-0.05, 1.0555), yr=(-320, 1845),
         leg=(1462, 26), ylabel=None, offr=1560),
    dict(td3=series(AGS_TD3_MEAN, AGS_TD3_MEAN_MID, AGS_TD3_LOW, AGS_TD3_LOW_MID, AGS_TD3_HIGH, AGS_TD3_HIGH_MID),
         mex=series(AGS_MEX_MEAN, AGS_MEX_MEAN_MID, AGS_MEX_LOW, AGS_MEX_LOW_MID, AGS_MEX_HIGH, AGS_MEX_HIGH_MID),
         yticks=AGS_YTICKS, box=(43, 502, 424, 737), xr=(-0.05, 1.05), yr=(-543, 1268),
         leg=(404, 431), ylabel=None, offr=501),
    dict(td3=series(HOP_TD3_MEAN, HOP_TD3_MEAN_MID, HOP_TD3_LOW, HOP_TD3_LOW_MID, HOP_TD3_HIGH, HOP_TD3_HIGH_MID),
         mex=series(HOP_MEX_MEAN, HOP_MEX_MEAN_MID, HOP_MEX_LOW, HOP_MEX_LOW_MID, HOP_MEX_HIGH, HOP_MEX_HIGH_MID),
         yticks=HOP_YTICKS, box=(578, 1021, 424, 737), xr=(-0.05, 1.05), yr=(-161, 3814),
         leg=(583, 431), ylabel=(531, 580), offr=1020),
    dict(td3=series(W2D_TD3_MEAN, W2D_TD3_MEAN_MID, W2D_TD3_LOW, W2D_TD3_LOW_MID, W2D_TD3_HIGH, W2D_TD3_HIGH_MID),
         mex=series(W2D_MEX_MEAN, W2D_MEX_MEAN_MID, W2D_MEX_LOW, W2D_MEX_LOW_MID, W2D_MEX_HIGH, W2D_MEX_HIGH_MID),
         yticks=W2D_YTICKS, box=(1093, 1553, 425, 737), xr=(-0.05, 1.05), yr=(-235, 5017),
         leg=(1099, 432), ylabel=None, offr=1552),
    dict(td3=series(HC_TD3_MEAN, HC_TD3_MEAN_MID, HC_TD3_LOW, HC_TD3_LOW_MID, HC_TD3_HIGH, HC_TD3_HIGH_MID),
         mex=series(HC_MEX_MEAN, HC_MEX_MEAN_MID, HC_MEX_LOW, HC_MEX_LOW_MID, HC_MEX_HIGH, HC_MEX_HIGH_MID),
         yticks=HC_YTICKS, box=(309, 762, 828, 1140), xr=(-0.05, 1.05), yr=(-1124, 12025),
         leg=(315, 834), ylabel=None, offr=761),
    dict(td3=series(ANT_TD3_MEAN, ANT_TD3_MEAN_MID, ANT_TD3_LOW, ANT_TD3_LOW_MID, ANT_TD3_HIGH, ANT_TD3_HIGH_MID),
         mex=series(ANT_MEX_MEAN, ANT_MEX_MEAN_MID, ANT_MEX_LOW, ANT_MEX_LOW_MID, ANT_MEX_HIGH, ANT_MEX_HIGH_MID),
         yticks=ANT_YTICKS, box=(833, 1294, 828, 1140), xr=(-0.05, 1.05), yr=(-33, 5989),
         leg=(839, 834), ylabel=None, offr=1293),
]


def fmt_tick(v):
    return ("\u2212" + str(-v)) if v < 0 else str(v)


def merge_grid(coarse, mid):
    """Put the values read at STEPS and at STEPS_MID together, in step order."""
    if mid is None:
        return list(coarse)
    out = list(coarse[:4])
    for j in range(len(mid)):
        out.append(mid[j])
        out.append(coarse[4 + j])
    return out


STEPS_ALL = merge_grid(STEPS, STEPS_MID)

fig = go.Figure()
annotations = []
layout = dict(
    width=W, height=H, autosize=False,
    margin=dict(l=0, r=0, t=0, b=0, pad=0),
    paper_bgcolor="white", plot_bgcolor="white",
    font=dict(family=FONT, size=12, color=TEXT),
    showlegend=True,
)

for i, p in enumerate(PANELS, start=1):
    xa = "x" if i == 1 else f"x{i}"
    ya = "y" if i == 1 else f"y{i}"
    lg = "legend" if i == 1 else f"legend{i}"
    l, r, t, b = p["box"]
    both = [p["td3"], p["mex"]]

    # shaded bands (polygon: upper edge forward, lower edge backward)
    for k, s in enumerate(both):
        xs = merge_grid(STEPS, STEPS_MID if s["low_mid"] is not None else None)
        hi = merge_grid(s["high"], s["high_mid"])
        lo = merge_grid(s["low"], s["low_mid"])
        fig.add_trace(go.Scatter(
            x=xs + xs[::-1], y=hi + lo[::-1],
            xaxis=xa, yaxis=ya, mode="lines", fill="toself",
            fillcolor=FILL_COLORS[k], line=dict(width=0, color=FILL_COLORS[k]),
            hoverinfo="skip", showlegend=False, legend=lg))
    # mean curves
    for k, s in enumerate(both):
        fig.add_trace(go.Scatter(
            x=STEPS_ALL, y=merge_grid(s["mean"], s["mean_mid"]), xaxis=xa, yaxis=ya,
            mode="lines", name=SERIES_NAMES[k], line=dict(color=LINE_COLORS[k], width=1.5),
            showlegend=True, legend=lg))

    axis_common = dict(
        showgrid=True, gridcolor=GRID, gridwidth=1,
        showline=True, mirror=True, linecolor=GRID, linewidth=1.25,
        zeroline=False, ticks="", tickfont=dict(family=FONT, size=12, color=TEXT),
        fixedrange=True,
    )
    layout["xaxis" if i == 1 else f"xaxis{i}"] = dict(
        axis_common, domain=[l / W, r / W], range=list(p["xr"]), anchor=ya,
        tickmode="array", tickvals=X_TICKS, ticktext=X_TICK_LABELS)
    layout["yaxis" if i == 1 else f"yaxis{i}"] = dict(
        axis_common, domain=[1 - b / H, 1 - t / H], range=list(p["yr"]), anchor=xa,
        tickmode="array", tickvals=p["yticks"], ticktext=[fmt_tick(v) for v in p["yticks"]],
        ticklabelstandoff=4)

    lx, ly = p["leg"]
    layout[lg] = dict(
        x=lx / W, y=1 - ly / H, xanchor="left", yanchor="top",
        bgcolor="rgba(0,0,0,0)", borderwidth=0,
        font=dict(family=FONT, size=12, color=TEXT),
        itemwidth=30, tracegroupgap=0, traceorder="normal")

    annotations.append(dict(
        text=TITLES[i - 1], x=(l + r) / 2 / W, y=1 - (t - 11.5) / H,
        xref="paper", yref="paper", xanchor="center", yanchor="middle",
        showarrow=False, font=dict(family=FONT, size=14.4, color=TEXT)))
    annotations.append(dict(
        text="Steps", x=(l + r) / 2 / W, y=1 - (b + 26) / H,
        xref="paper", yref="paper", xanchor="center", yanchor="middle",
        showarrow=False, font=dict(family=FONT, size=12, color=TEXT)))
    annotations.append(dict(
        text="1e6", x=p["offr"] / W, y=1 - (b + 25) / H,
        xref="paper", yref="paper", xanchor="right", yanchor="middle",
        showarrow=False, font=dict(family=FONT, size=12, color=TEXT)))
    if p["ylabel"] is not None:
        yx, yy = p["ylabel"]
        annotations.append(dict(
            text="Return", x=yx / W, y=1 - yy / H, textangle=-90,
            xref="paper", yref="paper", xanchor="center", yanchor="middle",
            showarrow=False, font=dict(family=FONT, size=12, color=TEXT)))

layout["annotations"] = annotations
fig.update_layout(**layout)

fig.write_html(
    "out.html", include_plotlyjs=True, full_html=True,
    config={"displayModeBar": False},
    post_script=("document.documentElement.style.margin='0';"
                 "document.body.style.margin='0';"
                 "document.body.style.padding='0';"
                 "document.documentElement.style.overflow='hidden';"
                 "document.body.style.overflow='hidden';"),
)
